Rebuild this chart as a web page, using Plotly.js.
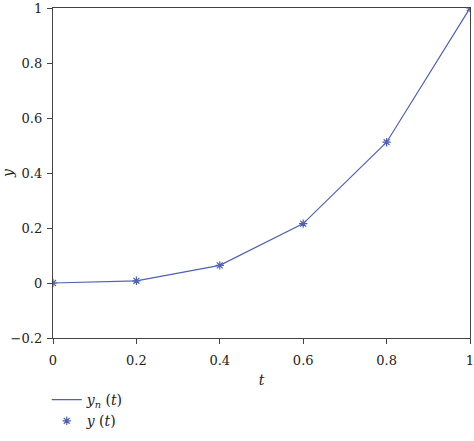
<!DOCTYPE html>
<html>
<head>
<meta charset="utf-8">
<script src="https://cdn.plot.ly/plotly-3.0.1.min.js"></script>
<style>
  html, body { margin: 0; padding: 0; background: #fff; }
  #chart { width: 474px; height: 441px; }
</style>
</head>
<body>
<div id="chart"></div>
<script>
// values
var tValues = [0, 0.2, 0.4, 0.6, 0.8, 1];
var ynValues = [0, 0.008, 0.064, 0.216, 0.512, 1];
var yValues = [0, 0.008, 0.064, 0.216, 0.512, 1];
var xTicks = [0, 0.2, 0.4, 0.6, 0.8, 1];
var xTickText = ['0', '0.2', '0.4', '0.6', '0.8', '1'];
var yTicks = [-0.2, 0, 0.2, 0.4, 0.6, 0.8, 1];
var yTickText = ['\u22120.2', '0', '0.2', '0.4', '0.6', '0.8', '1'];

var serif = 'DejaVu Serif';

var lineTrace = {
  x: tValues,
  y: ynValues,
  mode: 'lines',
  name: '<i>y</i><sub><i>n</i></sub> (<i>t</i>)',
  line: {color: '#4f61b5', width: 1.2},
  type: 'scatter'
};

var pointTrace = {
  x: tValues,
  y: yValues,
  mode: 'markers',
  name: '<i>y</i> (<i>t</i>)',
  marker: {symbol: 'asterisk-open', size: 7, color: '#4f61b5', line: {color: '#4f61b5', width: 1.2}},
  type: 'scatter'
};

var axisCommon = {
  showgrid: false,
  zeroline: false,
  showline: true,
  linecolor: '#444',
  linewidth: 1.2,
  mirror: true,
  ticks: 'outside',
  ticklen: 5,
  tickcolor: '#444',
  ticklabeloverflow: 'allow',
  tickfont: {family: serif, size: 13, color: '#222'}
};

var layout = {
  width: 474,
  height: 441,
  margin: {l: 53, r: 4, t: 8, b: 101},
  paper_bgcolor: '#fff',
  plot_bgcolor: '#fff',
  font: {family: serif, size: 13, color: '#222'},
  xaxis: Object.assign({}, axisCommon, {
    range: [0, 1],
    tickvals: xTicks,
    ticktext: xTickText,
    ticklabelstandoff: 5,
    title: {text: '<i>t</i>', font: {family: serif, size: 14}, standoff: 8}
  }),
  yaxis: Object.assign({}, axisCommon, {
    range: [-0.2, 1],
    tickvals: yTicks,
    ticktext: yTickText,
    ticklabelstandoff: 2,
    title: {text: '<i>y</i>', font: {family: serif, size: 14}, standoff: 16}
  }),
  showlegend: true,
  legend: {
    x: -0.015,
    y: -0.3,
    xanchor: 'left',
    yanchor: 'bottom',
    bgcolor: 'rgba(0,0,0,0)',
    font: {family: serif, size: 14, color: '#222'},
    tracegroupgap: 0
  }
};

Plotly.newPlot('chart', [lineTrace, pointTrace], layout, {displayModeBar: false, staticPlot: true});
</script>
</body>
</html>
